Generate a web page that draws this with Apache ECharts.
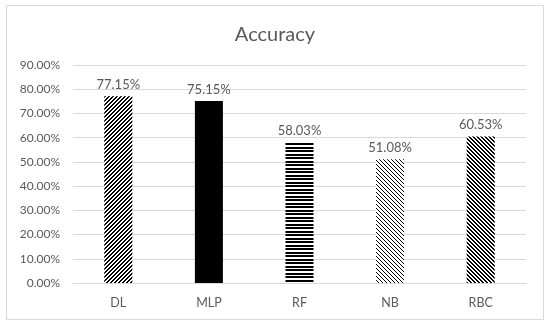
<!DOCTYPE html>
<html>
<head>
<meta charset="utf-8">
<script src="https://cdn.jsdelivr.net/npm/echarts@6/dist/echarts.min.js"></script>
<style>html,body{margin:0;padding:0;background:#fff}#c{width:550px;height:327px}</style>
</head>
<body>
<div id="c"></div>
<script>
var categories = ['DL', 'MLP', 'RF', 'NB', 'RBC'];
var accuracy = [77.15, 75.15, 58.03, 51.08, 60.53];
var yTicks = [0, 10, 20, 30, 40, 50, 60, 70, 80, 90];

function makePattern(fn, w, h) {
  var c = document.createElement('canvas');
  c.width = w; c.height = h;
  var ctx = c.getContext('2d');
  ctx.fillStyle = '#fff';
  ctx.fillRect(0, 0, w, h);
  ctx.fillStyle = '#000';
  for (var y = 0; y < h; y++) for (var x = 0; x < w; x++) if (fn(x, y)) ctx.fillRect(x, y, 1, 1);
  return { image: c, repeat: 'repeat' };
}
var patterns = [
  makePattern(function (x, y) { return ((x + y) % 4) < 2; }, 4, 4),
  '#000000',
  makePattern(function (x, y) { var r = y % 7; return r === 0 || r === 1 || r === 3 || r === 4; }, 7, 7),
  makePattern(function (x, y) { return (((x - y) % 4) + 4) % 4 === 0; }, 4, 4),
  makePattern(function (x, y) { return ((((x - y) % 4) + 4) % 4) < 2; }, 4, 4)
];

var chart = echarts.init(document.getElementById('c'), null, { renderer: 'canvas' });
var font = 'Lato, "Open Sans", sans-serif';
chart.setOption({
  animation: false,
  backgroundColor: '#fff',
  graphic: [{
    type: 'rect', shape: { x: 6.5, y: 5.5, width: 537, height: 314 },
    style: { fill: 'none', stroke: '#d9d9d9', lineWidth: 1 }, silent: true, z: -1
  }],
  title: {
    text: 'Accuracy', left: 'center', top: 20,
    textStyle: { fontFamily: font, fontSize: 20, fontWeight: 'normal', color: '#595959' }
  },
  grid: { left: 73, right: 24, top: 65, bottom: 44 },
  xAxis: {
    type: 'category', data: categories,
    axisLine: { lineStyle: { color: '#d9d9d9' } },
    axisTick: { show: false },
    axisLabel: { fontFamily: font, fontSize: 12.5, color: '#595959', margin: 13 }
  },
  yAxis: {
    type: 'value', min: yTicks[0], max: yTicks[yTicks.length - 1], interval: 10,
    axisLine: { show: false }, axisTick: { show: false },
    splitLine: { lineStyle: { color: '#d9d9d9' } },
    axisLabel: { fontFamily: font, fontSize: 12, color: '#595959', margin: 13,
      formatter: function (v) { return v.toFixed(2) + '%'; } }
  },
  series: [{
    type: 'bar', barWidth: 28,
    data: accuracy.map(function (v, i) { return { value: v, itemStyle: { color: patterns[i] } }; }),
    label: { show: true, position: 'top', distance: 5, fontFamily: font, fontSize: 13, color: '#595959',
      formatter: function (p) { return p.value.toFixed(2) + '%'; } }
  }]
});
</script>
</body>
</html>
